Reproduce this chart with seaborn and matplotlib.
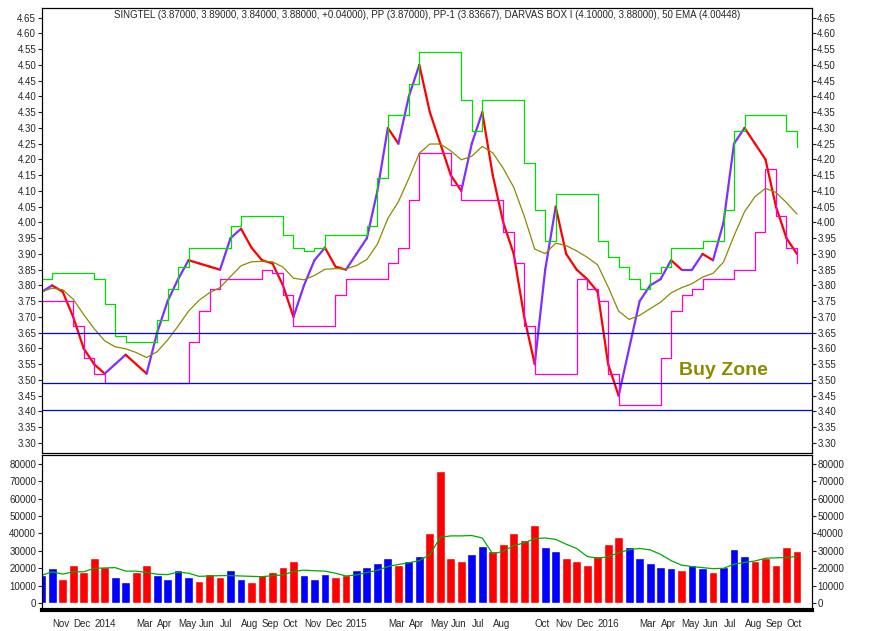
import numpy as np
import pandas as pd
import matplotlib
matplotlib.use("Agg")
import matplotlib.pyplot as plt
import seaborn as sns

sns.set_style("white")
plt.rcParams['font.family'] = ['Liberation Sans', 'DejaVu Sans']

month_pos = [0.5 + 0.5 * i for i in range(73)]
close = [3.78, 3.80, 3.78, 3.70, 3.60, 3.55, 3.52, 3.55, 3.58, 3.55, 3.52, 3.65,
         3.75, 3.82, 3.88, 3.87, 3.86, 3.85, 3.95, 3.98, 3.92, 3.88, 3.87, 3.80,
         3.70, 3.80, 3.88, 3.92, 3.86, 3.85, 3.90, 3.95, 4.10, 4.30, 4.25, 4.40,
         4.50, 4.35, 4.25, 4.15, 4.10, 4.25, 4.35, 4.15, 4.00, 3.90, 3.70, 3.55,
         3.85, 4.05, 3.90, 3.85, 3.82, 3.78, 3.55, 3.45, 3.60, 3.75, 3.80, 3.82,
         3.88, 3.85, 3.85, 3.90, 3.88, 4.00, 4.25, 4.30, 4.25, 4.20, 4.05, 3.95, 3.90]
volume = [16000, 20000, 14000, 22000, 18000, 26000, 21000, 15000, 12000, 18000, 22000, 16000,
          14000, 19000, 15000, 13000, 17000, 15000, 19000, 14000, 12000, 16000, 18000, 21000,
          24000, 16000, 14000, 17000, 15000, 16000, 19000, 21000, 23000, 26000, 22000, 24000,
          27000, 40000, 76000, 26000, 24000, 28000, 33000, 30000, 34000, 40000, 36000, 45000,
          32000, 30000, 26000, 24000, 22000, 27000, 34000, 38000, 32000, 26000, 23000, 21000,
          20000, 19000, 22000, 20000, 18000, 21000, 31000, 27000, 24000, 26000, 22000, 32000, 30000]
month_labels = ["Nov", "Dec", "2014", "", "Mar", "Apr", "May", "Jun", "Jul", "Aug", "Sep", "Oct",
                "Nov", "Dec", "2015", "", "Mar", "Apr", "May", "Jun", "Jul", "Aug", "", "Oct",
                "Nov", "Dec", "2016", "", "Mar", "Apr", "May", "Jun", "Jul", "Aug", "Sep", "Oct"]
support_levels = [3.65, 3.49, 3.405]

df = pd.DataFrame({"m": month_pos, "close": close, "vol": volume})
df["ema"] = df["close"].ewm(span=8).mean()
df["boxtop"] = df["close"].rolling(4, min_periods=1).max() + 0.04
df["boxbot"] = df["close"].rolling(4, min_periods=1).min() - 0.03
df["vma"] = df["vol"].rolling(5, min_periods=1).mean()

fig = plt.figure(figsize=(8.69, 6.31), dpi=100)
ax = fig.add_axes([0.048, 0.282, 0.886, 0.705])
axv = fig.add_axes([0.048, 0.033, 0.886, 0.246], sharex=ax)

for i in range(1, len(df)):
    c = "#ff0000" if df.close[i] < df.close[i - 1] else "#7f2fff"
    ax.plot(df.m[i - 1:i + 1], df.close[i - 1:i + 1], color=c, lw=1.6)
ax.step(df.m, df.boxtop, where="post", color="#00dd00", lw=0.9)
ax.step(df.m, df.boxbot, where="post", color="#ff00cc", lw=0.9)
sns.lineplot(data=df, x="m", y="ema", ax=ax, color="#8b8b00", lw=0.9)
for lv in support_levels:
    ax.axhline(lv, color="#0000ff", lw=0.9)
ax.text(30.9, 3.53, "Buy Zone", color="#8b8b00", fontsize=14, fontweight="bold", va="center")
ax.set_ylim(3.268, 4.68)
ax.set_xlim(0.5, 37.2)
ticks = np.round(np.arange(3.30, 4.651, 0.05), 2)
ax.set_yticks(ticks)
ax.set_yticklabels([f"{t:.2f}" for t in ticks], fontsize=7)
ax.set_ylabel(""); ax.set_xlabel("")
ax.tick_params(axis="x", labelbottom=False, length=0)
axr = ax.twinx()
axr.set_ylim(ax.get_ylim())
axr.set_yticks(ticks)
axr.set_yticklabels([f"{t:.2f}" for t in ticks], fontsize=7)
for a in (ax, axr):
    a.tick_params(axis="y", length=3, pad=1)
ax.text(0.5, 0.995, "SINGTEL (3.87000, 3.89000, 3.84000, 3.88000, +0.04000), PP (3.87000), PP-1 (3.83667), "
        "DARVAS BOX I (4.10000, 3.88000), 50 EMA (4.00448)", fontsize=7, ha="center", va="top",
        transform=ax.transAxes)

colors = ["#ff0000" if (i > 0 and close[i] < close[i - 1]) else "#0000ff" for i in range(len(close))]
axv.bar(df.m, df.vol, width=0.42, color=colors)
axv.plot(df.m, df.vma, color="#00aa00", lw=0.9)
axv.set_ylim(-4000, 85000)
vt = np.arange(0, 80001, 10000)
axv.set_yticks(vt)
axv.set_yticklabels([str(v) for v in vt], fontsize=7)
axvr = axv.twinx()
axvr.set_ylim(axv.get_ylim())
axvr.set_yticks(vt)
axvr.set_yticklabels([str(v) for v in vt], fontsize=7)
for a in (axv, axvr):
    a.tick_params(axis="y", length=3, pad=1)
axv.set_xticks(np.arange(1, 37))
axv.set_xticklabels(month_labels, fontsize=7, ha="left")
axv.tick_params(axis="x", which="major", length=3, pad=3)
for a in (ax, axr, axv, axvr):
    for s in a.spines.values():
        s.set_color("black"); s.set_linewidth(0.8)
axv.spines["bottom"].set_linewidth(3)

fig.savefig("out.png", dpi=100)
